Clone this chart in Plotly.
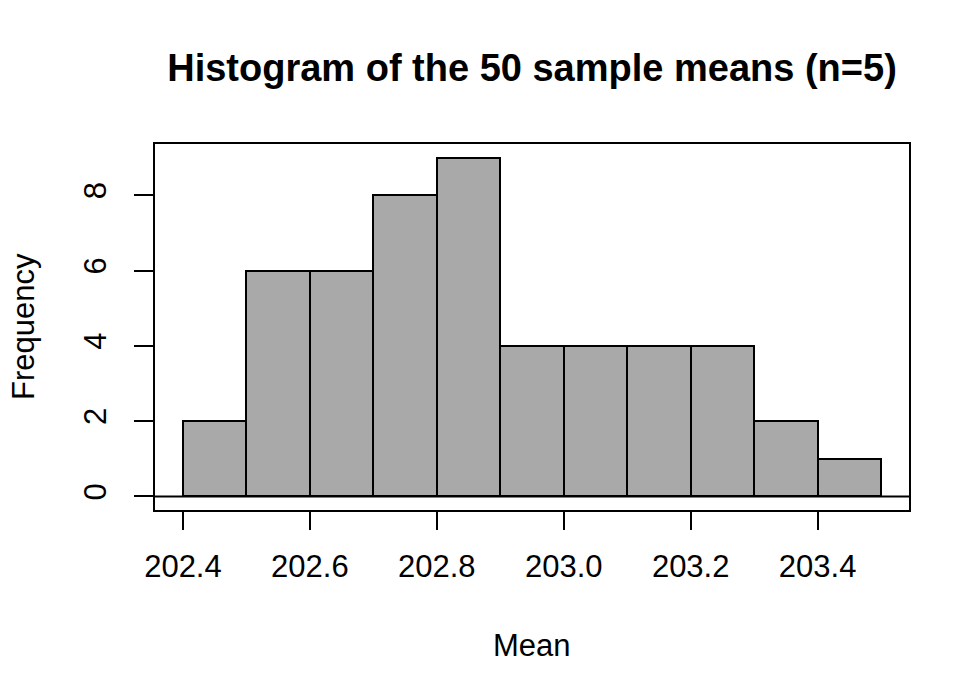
import plotly.graph_objects as go

bin_edges = [202.4, 202.5, 202.6, 202.7, 202.8, 202.9, 203.0, 203.1, 203.2, 203.3, 203.4, 203.5]
counts = [2, 6, 6, 8, 9, 4, 4, 4, 4, 2, 1]
x_ticks = [202.4, 202.6, 202.8, 203.0, 203.2, 203.4]
x_tick_labels = ["202.4", "202.6", "202.8", "203.0", "203.2", "203.4"]
y_ticks = [0, 2, 4, 6, 8]

centers = [(a + b) / 2 for a, b in zip(bin_edges[:-1], bin_edges[1:])]
widths = [b - a for a, b in zip(bin_edges[:-1], bin_edges[1:])]

FONT = "Liberation Sans, Arial, sans-serif"

fig = go.Figure()
fig.add_trace(go.Bar(
    x=centers, y=counts, width=widths,
    marker=dict(color="#A9A9A9", line=dict(color="black", width=2)),
    showlegend=False, hoverinfo="skip",
))

lo, hi = bin_edges[0], bin_edges[-1]
pad = (hi - lo) * 0.04
ymax = max(counts)

fig.update_layout(
    width=980, height=700,
    margin=dict(l=155, r=71, t=144, b=190),
    paper_bgcolor="white", plot_bgcolor="white",
    font=dict(family=FONT, color="black", size=31),
    title=dict(text="Histogram of the 50 sample means (n=5)",
               font=dict(family=FONT, size=38, weight="bold", color="black"),
               x=0.5, xref="paper", y=1 - 68 / 700, yanchor="middle", xanchor="center"),
    bargap=0,
    xaxis=dict(range=[lo - pad, hi + pad], tickvals=x_ticks, ticktext=x_tick_labels,
               showgrid=False, zeroline=False, showline=True, mirror=True,
               linecolor="black", linewidth=2, ticks="outside", ticklen=18,
               tickwidth=2, tickcolor="black", ticklabelstandoff=10,
               tickfont=dict(size=31)),
    yaxis=dict(range=[-ymax * 0.04, ymax * 1.04], tickvals=y_ticks,
               showgrid=False, zeroline=False, showline=True, mirror=True,
               linecolor="black", linewidth=2, ticks="outside", ticklen=19,
               tickwidth=2, tickcolor="black", tickangle=-90, ticklabelstandoff=16,
               tickfont=dict(size=31)),
    shapes=[dict(type="line", xref="paper", yref="y", x0=0, x1=1, y0=0, y1=0,
                 line=dict(color="black", width=2))],
    annotations=[
        dict(text="Mean", xref="paper", yref="paper", x=0.5, y=(510 - 645) / 366,
             xanchor="center", yanchor="middle", showarrow=False,
             font=dict(size=31, family=FONT)),
        dict(text="Frequency", xref="paper", yref="paper", x=(23 - 155) / 754, y=0.5,
             xanchor="center", yanchor="middle", textangle=-90, showarrow=False,
             font=dict(size=31, family=FONT)),
    ],
)

fig.write_html("out.html")
